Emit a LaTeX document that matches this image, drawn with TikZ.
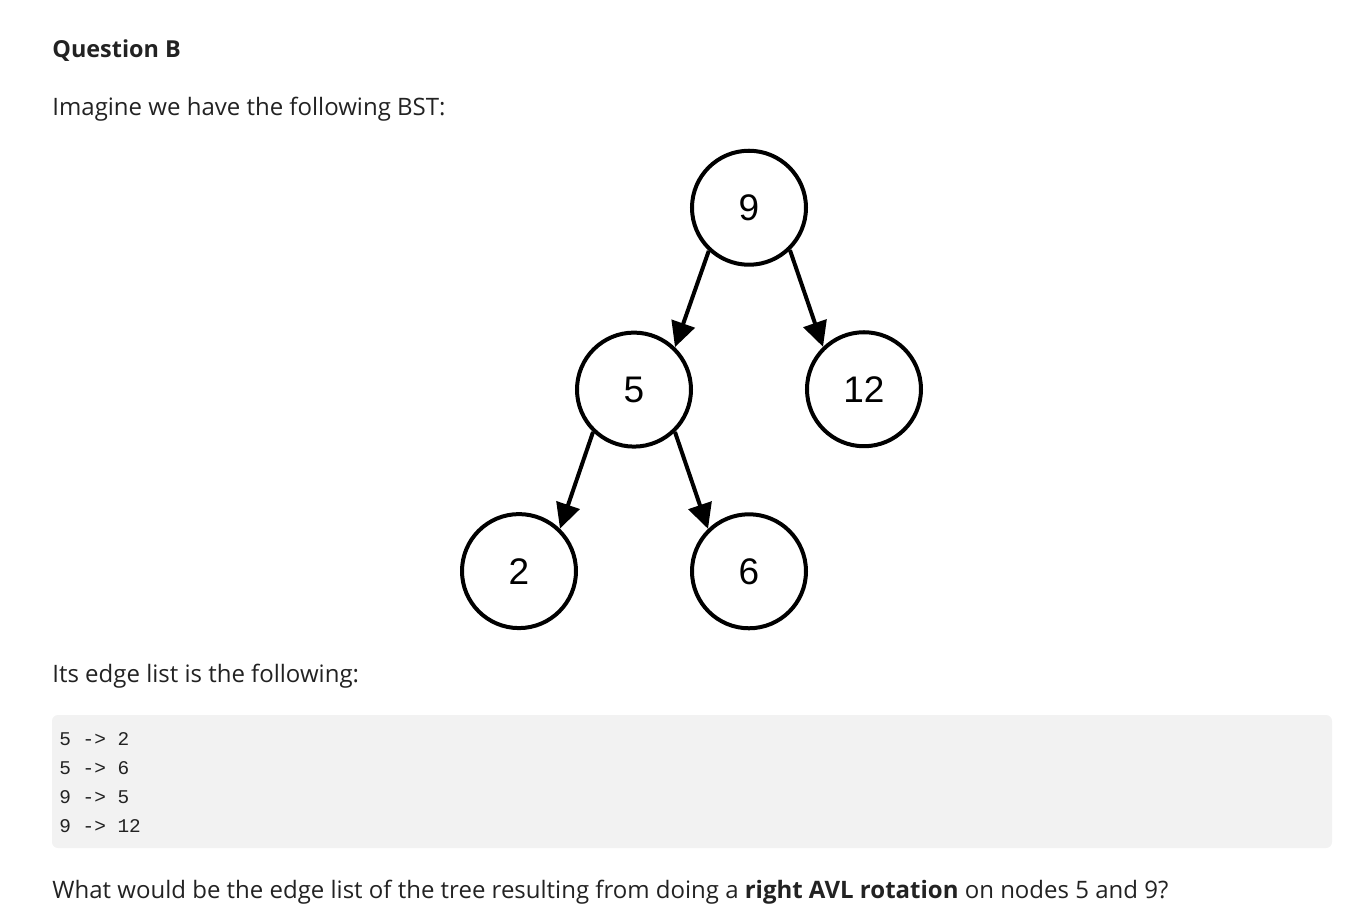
\documentclass[tikz,border=0pt]{standalone}
\usepackage{fontspec}
\setmainfont{Open Sans}
\setmonofont{Liberation Mono}
\newfontfamily\keyfont{Liberation Sans}
\usetikzlibrary{matrix,arrows.meta}
\definecolor{ink}{RGB}{34,34,34}
\definecolor{codebg}{RGB}{242,242,242}

\begin{document}
\begin{tikzpicture}[x=0.5pt,y=-0.5pt,
	txt/.style={anchor=base west,inner sep=0,text=ink,font=\fontsize{12pt}{14pt}\selectfont},
	codeline/.style={anchor=base west,inner sep=0,text=ink,font=\ttfamily\fontsize{9.7pt}{11pt}\selectfont},
	key/.style={circle,draw,line width=2pt,minimum size=57pt,inner sep=0,font=\keyfont\fontsize{18.5pt}{20pt}\selectfont}]
	\useasboundingbox (0,0) rectangle (1362,912);
	\node[txt,font=\bfseries\fontsize{11.7pt}{14pt}\selectfont] (title) at (52,57) {Question B};
	\node[txt] (intro) at (52,115) {Imagine we have the following BST:};
	\matrix (m) at (691.5,389.5) [matrix of nodes,nodes={key},row sep=31.75pt,column sep=-1.5pt]
	{
		  &   & 9 &    \\
		  & 5 &   & 12 \\
		2 &   & 6 &    \\};
	\path[-{Triangle[length=12.5pt,width=12pt]},line width=2pt]
	(m-1-3.227) edge (m-2-2.46)
	(m-1-3.314) edge (m-2-4.134)
	(m-2-2.226) edge (m-3-1.46)
	(m-2-2.314) edge (m-3-3.134);
	\node[txt] (listintro) at (52,682) {Its edge list is the following:};
	\fill[codebg,rounded corners=3pt] (52,715) rectangle (1332,848);
	\node[codeline] (e1) at (59,745) {5 -> 2};
	\node[codeline] (e2) at (59,774) {5 -> 6};
	\node[codeline] (e3) at (59,803) {9 -> 5};
	\node[codeline] (e4) at (59,832) {9 -> 12};
	\node[txt] (ask) at (52,898) {What would be the edge list of the tree resulting from doing a \textbf{right AVL rotation} on nodes 5 and 9?};
\end{tikzpicture}
\end{document}
